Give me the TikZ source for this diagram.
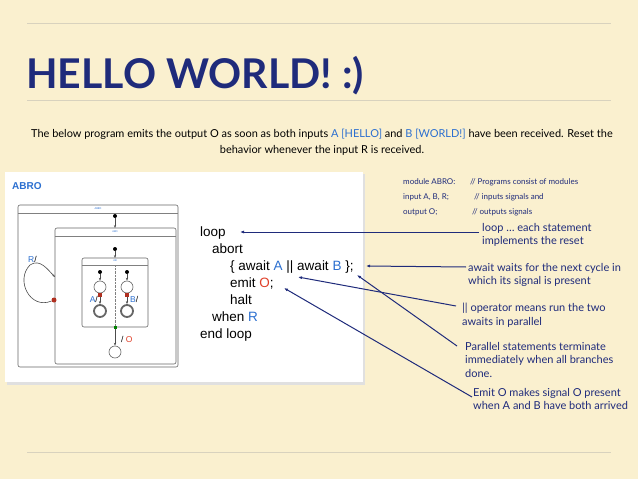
\documentclass[tikz,border=0pt]{standalone}
\usepackage{fontspec}
\setmainfont{Lato}
\newfontfamily\arial{Liberation Sans}
\usetikzlibrary{arrows.meta}
\definecolor{bg}{HTML}{FAF0CF}
\definecolor{navy}{HTML}{1F2B7B}
\definecolor{cblue}{HTML}{2B6FD0}
\definecolor{cred}{HTML}{E0402A}
\definecolor{dred}{HTML}{B03020}
\definecolor{rule}{HTML}{D8D2BE}
\tikzset{
 ann/.style={anchor=north west,align=left,text=navy,font=\fontsize{11}{13.5}\selectfont,inner sep=0},
 code/.style={anchor=base west,font=\arial\fontsize{13.5}{15}\selectfont,inner sep=0},
 mod/.style={anchor=base west,text=navy,font=\fontsize{8}{9}\selectfont,inner sep=0},
 pointer/.style={navy,line width=1pt,-{Latex[length=4pt,width=3pt]}},
 box/.style={draw=gray!80!black,rounded corners=2pt,line width=0.6pt},
 st/.style={circle,draw=gray!80!black,fill=white,minimum size=12pt,inner sep=0,line width=0.6pt},
 fst/.style={circle,draw=gray!80!black,fill=white,minimum size=12pt,inner sep=0,line width=1.8pt},
 ini/.style={circle,fill=black,minimum size=4pt,inner sep=0},
 tr/.style={gray!60!black,line width=0.6pt,-{Stealth[length=3pt]}},
 rdot/.style={fill=dred,minimum size=4pt,inner sep=0},
}
\begin{document}
\begin{tikzpicture}[x=1pt,y=-1pt]
\fill[bg] (0,0) rectangle (638,479);
\useasboundingbox (0,0) rectangle (638,479);
\draw[rule,line width=0.6pt] (27,23) -- (611,23) (27,100) -- (611,100) (27,452) -- (611,452);
\node[anchor=base west,text=navy,font=\bfseries\fontsize{41}{44}\selectfont,inner sep=0] (title) at (26,88) {HELLO WORLD! :)};
\node[anchor=north,align=center,font=\fontsize{10.95}{16}\selectfont,inner sep=0] (sub) at (322,129) {The below program emits the output O as soon as both inputs \textcolor{cblue}{A [HELLO]} and \textcolor{cblue}{B [WORLD!]} have been received. Reset the\\behavior whenever the input R is received.};
% panel
\fill[black!12] (7,174) rectangle (365,385);
\fill[white] (5,172) rectangle (363,382);
\node[anchor=base west,text=cblue,font=\arial\bfseries\fontsize{10}{11}\selectfont,inner sep=0] (abro) at (12,189) {ABRO};
% statechart
\draw[box] (18,205) rectangle (178,367); \draw[gray] (18,213) -- (178,213);
\draw[box] (55,228) rectangle (176,364); \draw[gray] (55,236) -- (176,236);
\draw[box] (82,258) rectangle (148,327); \draw[gray] (82,265) -- (148,265);
\node[font=\fontsize{2.5}{3}\selectfont,text=cblue,inner sep=0] (h1) at (98,209) {ABRO};
\node[font=\fontsize{2.5}{3}\selectfont,text=cblue,inner sep=0] (h2) at (115,232) {ABO};
\node[font=\fontsize{2.5}{3}\selectfont,text=cblue,inner sep=0] (h3) at (115,261) {AB};
\draw[gray,densely dotted] (115,265) -- (115,327);
\node[ini] (i1) at (115,216) {};
\node[ini] (i2) at (115,249) {};
\node[ini] (i3) at (100,272) {};
\node[ini] (i4) at (127,272) {};
\node[st] (a1) at (100,287) {};
\node[fst] (a2) at (100,311) {};
\node[st] (b1) at (127,287) {};
\node[fst] (b2) at (127,311) {};
\node[st] (o) at (115,352) {};
\coordinate (midtop) at (115,228);
\draw[tr] (i1) -- (midtop);
\draw[tr] (i2) -- (115,258);
\draw[tr] (i3) -- (a1);
\draw[tr] (i4) -- (b1);
\draw[tr] (a1) -- (a2);
\draw[tr] (b1) -- (b2);
\draw[tr] (115,327) -- (o);
\node[rdot] (ra) at (100,295) {};
\node[rdot] (rb) at (127,295) {};
\node[fill=green!50!black,minimum size=3pt,inner sep=0] (gd) at (115,327) {};
\node[circle,fill=dred,minimum size=5pt,inner sep=0] (rr) at (54,300) {};
\coordinate (rin) at (55,277);
\draw[tr] (rr) .. controls (30,310) and (15,280) .. (30,265) .. controls (40,258) and (48,270) .. (rin);
\node[anchor=base west,font=\arial\fontsize{8.5}{9}\selectfont,inner sep=0] (rl) at (28,262) {\textcolor{cblue}{R}/};
\node[anchor=base east,font=\arial\fontsize{8.5}{9}\selectfont,inner sep=0] (al) at (98,302) {\textcolor{cblue}{A}/};
\node[anchor=base west,font=\arial\fontsize{8.5}{9}\selectfont,inner sep=0] (bl) at (130,302) {\textcolor{cblue}{B}/};
\node[anchor=base west,font=\arial\fontsize{8.5}{9}\selectfont,inner sep=0] (ol) at (121,342) {/ \textcolor{cred}{O}};
% code
\node[code] (c1) at (200,236) {loop};
\node[code] (c2) at (212,253) {abort};
\node[code] (c3) at (230,270) {\{ await \textcolor{cblue}{A} || await \textcolor{cblue}{B} \};};
\node[code] (c4) at (230,287) {emit \textcolor{cred}{O};};
\node[code] (c5) at (230,304) {halt};
\node[code] (c6) at (212,321) {when \textcolor{cblue}{R}};
\node[code] (c7) at (200,338) {end loop};
% module text
\node[mod] (m1) at (403,184) {module ABRO:};
\node[mod] (m2) at (403,199) {input A, B, R;};
\node[mod] (m3) at (403,214) {output O;};
\node[mod] (m4) at (470,184) {// Programs consist of modules};
\node[mod] (m5) at (474,199) {// inputs signals and};
\node[mod] (m6) at (472,214) {// outputs signals};
% annotations
\node[ann] (n1) at (482,223) {loop \dots\ each statement\\implements the reset};
\node[ann] (n2) at (468,263) {await waits for the next cycle in\\which its signal is present};
\node[ann] (n3) at (462,303) {|| operator means run the two\\awaits in parallel};
\node[ann] (n4) at (465,342) {Parallel statements terminate\\immediately when all branches\\done.};
\node[ann] (n5) at (473,388) {Emit O makes signal O present\\when A and B have both arrived};
\coordinate (t1) at (240,232);
\coordinate (t2) at (366,266);
\coordinate (t3) at (298,277);
\coordinate (t4) at (357,275);
\coordinate (t5) at (284,288);
\draw[pointer] (479,232) -- (t1);
\draw[pointer] (466,267) -- (t2);
\draw[pointer] (456,306) -- (t3);
\draw[pointer] (457,346) -- (t4);
\draw[pointer] (472,397) -- (t5);
\end{tikzpicture}
\end{document}
